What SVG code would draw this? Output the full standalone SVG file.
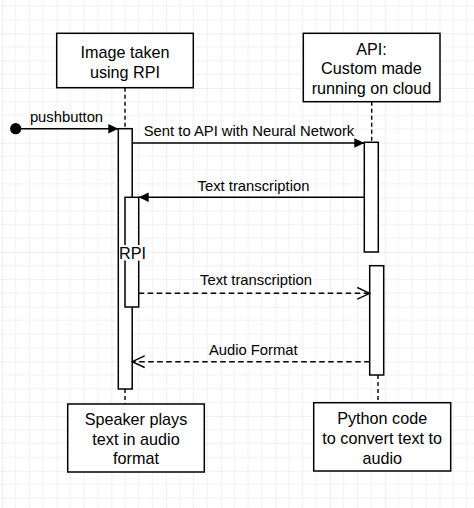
<svg xmlns="http://www.w3.org/2000/svg" width="474" height="508" viewBox="0 0 474 508">
  <defs>
    <pattern id="grid" patternUnits="userSpaceOnUse" x="2" y="33.3" width="54.68" height="54.68">
      <path d="M13.67 0V54.68M27.34 0V54.68M41.01 0V54.68M0 13.67H54.68M0 27.34H54.68M0 41.01H54.68" stroke="#f1f1f1" stroke-width="1" fill="none"/>
      <path d="M0 0V54.68M0 0H54.68" stroke="#e2e2e2" stroke-width="1" fill="none"/>
    </pattern>
    <marker id="block" markerUnits="userSpaceOnUse" viewBox="0 0 10 10" refX="10" refY="5" markerWidth="10.5" markerHeight="10" orient="auto">
      <path d="M0 0.3L10 5L0 9.7Z" fill="#000"/>
    </marker>
    <marker id="open" markerUnits="userSpaceOnUse" viewBox="0 0 14 14" refX="13" refY="7" markerWidth="14" markerHeight="14" orient="auto">
      <path d="M0.5 1.2L13 7L0.5 12.8" fill="none" stroke="#000" stroke-width="1.4"/>
    </marker>
    <style>
      .box { fill: #fff; stroke: #000; stroke-width: 1.5; }
      .bar { fill: #fff; stroke: #000; stroke-width: 1.5; }
      .life { stroke: #000; stroke-width: 1.4; stroke-dasharray: 4 3; fill: none; }
      .msg { stroke: #000; stroke-width: 1.5; fill: none; }
      .dash { stroke-dasharray: 5.5 3.5; }
      .t { font-family: "Liberation Sans", Arial, sans-serif; font-size: 16.2px; fill: #000; text-anchor: middle; }
      .lbl { font-family: "Liberation Sans", Arial, sans-serif; font-size: 14.8px; fill: #000; text-anchor: middle; }
    </style>
  </defs>
  <rect width="474" height="508" fill="#fff"/>
  <rect width="474" height="508" fill="url(#grid)"/>

  <g id="lifelines">
    <path class="life" d="M125 87.7V128.7M125 389V404"/>
    <path class="life" d="M371.7 101.7V142.3M378 375V402.7"/>
  </g>

  <g id="rpi-main-bar">
    <rect class="bar" x="118.3" y="128.7" width="13.9" height="260.3"/>
  </g>
  <g id="rpi-nested-bar">
    <rect class="bar" x="125" y="197.3" width="13.7" height="109.7"/>
    <rect x="119.6" y="245" width="26.6" height="15.5" fill="#fff"/>
    <text class="t" x="132.5" y="258.6">RPI</text>
  </g>
  <g id="api-bar-1">
    <rect class="bar" x="364.3" y="142.3" width="14" height="109.7"/>
  </g>
  <g id="api-bar-2">
    <rect class="bar" x="369.7" y="265.7" width="14" height="109.3"/>
  </g>

  <g id="node-image">
    <rect class="box" x="56.7" y="33.3" width="136.6" height="54.4"/>
    <text class="t" x="125" y="57.6">Image taken</text>
    <text class="t" x="125" y="77.6">using RPI</text>
  </g>
  <g id="node-api">
    <rect class="box" x="303.3" y="33.3" width="136.7" height="68.4"/>
    <text class="t" x="371.5" y="55.2">API:</text>
    <text class="t" x="371.5" y="73.8">Custom made</text>
    <text class="t" x="371.5" y="93.6">running on cloud</text>
  </g>
  <g id="node-speaker">
    <rect class="box" x="67.7" y="404" width="136.6" height="68"/>
    <text class="t" x="136" y="425.2">Speaker plays</text>
    <text class="t" x="136" y="444.9">text in audio</text>
    <text class="t" x="136" y="464.2">format</text>
  </g>
  <g id="node-python">
    <rect class="box" x="313.7" y="402.7" width="137" height="68.3"/>
    <text class="t" x="382.2" y="423.6">Python code</text>
    <text class="t" x="382.2" y="444.2">to convert text to</text>
    <text class="t" x="382.2" y="463.6">audio</text>
  </g>

  <g id="connectors">
    <circle cx="15.7" cy="128.7" r="5.6" fill="#000"/>
    <line class="msg" x1="15.7" y1="128.7" x2="118.3" y2="128.7" marker-end="url(#block)"/>
    <text class="lbl" x="66.5" y="121.5">pushbutton</text>

    <line class="msg" x1="132.2" y1="143" x2="364.3" y2="143" marker-end="url(#block)"/>
    <text class="lbl" x="249" y="135.7">Sent to API with Neural Network</text>

    <line class="msg" x1="364.3" y1="197.3" x2="138.7" y2="197.3" marker-end="url(#block)"/>
    <text class="lbl" x="253.5" y="191">Text transcription</text>

    <line class="msg dash" x1="138.7" y1="293.3" x2="369.7" y2="293.3" marker-end="url(#open)"/>
    <text class="lbl" x="256" y="285">Text transcription</text>

    <line class="msg dash" x1="369.7" y1="361.7" x2="132.2" y2="361.7" marker-end="url(#open)"/>
    <text class="lbl" x="253.3" y="355">Audio Format</text>
  </g>
</svg>
